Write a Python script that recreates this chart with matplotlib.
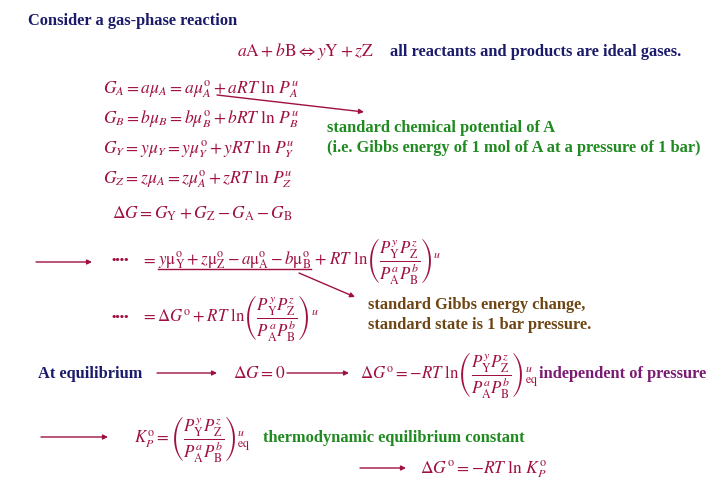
import matplotlib
matplotlib.use('Agg')
import matplotlib.pyplot as plt

plt.rcParams['mathtext.fontset'] = 'stix'
plt.rcParams['font.family'] = ['Liberation Serif', 'DejaVu Serif']

NAVY = '#1b1b6b'
MAROON = '#a0103f'
GREEN = '#1f8a1f'
BROWN = '#6e4514'
PURPLE = '#7b1a72'

# ---- slide text content ----
title_text = 'Consider a gas-phase reaction'
reaction_eq = r'$a\mathrm{A}+b\mathrm{B}\Leftrightarrow y\mathrm{Y}+z\mathrm{Z}$'
reaction_note = 'all reactants and products are ideal gases.'
gibbs_lines = [
    r'$G_A = a\mu_A = a\mu_A^{\mathrm{o}} + aRT\ \mathrm{ln}\ P_A^u$',
    r'$G_B = b\mu_B = b\mu_B^{\mathrm{o}} + bRT\ \mathrm{ln}\ P_B^u$',
    r'$G_Y = y\mu_Y = y\mu_Y^{\mathrm{o}} + yRT\ \mathrm{ln}\ P_Y^u$',
    r'$G_Z = z\mu_A = z\mu_A^{\mathrm{o}} + zRT\ \mathrm{ln}\ P_Z^u$',
]
chem_pot_notes = ['standard chemical potential of A',
                  '(i.e. Gibbs energy of 1 mol of A at a pressure of 1 bar)']
delta_g_def = r'$\Delta G = G_{\mathrm{Y}} + G_{\mathrm{Z}} - G_{\mathrm{A}} - G_{\mathrm{B}}$'
dots = '\u2022\u2022\u2022\u2022'
frac = r'\left(\dfrac{P_{\mathrm{Y}}^{y}P_{\mathrm{Z}}^{z}}{P_{\mathrm{A}}^{a}P_{\mathrm{B}}^{b}}\right)'
line2_under = (r'$y\mathrm{\mu}_{\mathrm{Y}}^{\mathrm{o}} + z\mathrm{\mu}_{\mathrm{Z}}^{\mathrm{o}}'
               r' - a\mathrm{\mu}_{\mathrm{A}}^{\mathrm{o}} - b\mathrm{\mu}_{\mathrm{B}}^{\mathrm{o}}$')
line2_rest = r'$+\ RT\ \mathrm{ln}' + frac + r'^{u}$'
line3 = r'$= \Delta G^{\mathrm{o}} + RT\ \mathrm{ln}' + frac + r'^{u}$'
std_gibbs_notes = ['standard Gibbs energy change,', 'standard state is 1 bar pressure.']
eq_label = 'At equilibrium'
eq_zero = r'$\Delta G = 0$'
eq_dg0 = r'$\Delta G^{\mathrm{o}} = -RT\ \mathrm{ln}' + frac + r'^{u}_{\mathrm{eq}}$'
indep_note = 'independent of pressure'
kp_def = r'$K_P^{\mathrm{o}} = ' + frac + r'^{u}_{\mathrm{eq}}$'
kp_note = 'thermodynamic equilibrium constant'
final_eq = r'$\Delta G^{\mathrm{o}} = -RT\ \mathrm{ln}\ K_P^{\mathrm{o}}$'

W, H = 720, 498
fig = plt.figure(figsize=(7.2, 4.98), dpi=100)
ax = fig.add_axes([0, 0, 1, 1])
ax.set_xlim(0, W)
ax.set_ylim(H, 0)
ax.axis('off')

MS = 12.6   # math size
FS = 12.2   # math size for fraction lines
TS = 11.8   # bold text size


def txt(x, y, s, color, size, bold=False, va='baseline'):
    return ax.text(x, y, s, color=color, fontsize=size, va=va, ha='left',
                   fontweight='bold' if bold else 'normal')


def arrow(x0, y0, x1, y1, color=MAROON):
    ax.annotate('', xy=(x1, y1), xytext=(x0, y0),
                arrowprops=dict(arrowstyle='-|>', color=color, lw=1.0,
                                mutation_scale=7, shrinkA=0, shrinkB=0))


fig.canvas.draw()
renderer = fig.canvas.get_renderer()
inv = ax.transData.inverted()


def width_data(t):
    bb = t.get_window_extent(renderer)
    (x0, _), (x1, _) = inv.transform([[bb.x0, bb.y0], [bb.x1, bb.y0]])
    return x1 - x0


# title & reaction
txt(28, 25, title_text, NAVY, TS, bold=True)
txt(237, 56, reaction_eq, MAROON, MS)
txt(390, 56, reaction_note, NAVY, TS, bold=True)

# Gibbs energies of the species
for i, s in enumerate(gibbs_lines):
    txt(103, 93 + 30 * i, s, MAROON, MS)
arrow(217, 95, 364, 112)
txt(327, 132, chem_pot_notes[0], GREEN, TS, bold=True)
txt(327, 152, chem_pot_notes[1], GREEN, TS, bold=True)

# Delta G
txt(112, 219, delta_g_def, MAROON, MS)

# line 2
arrow(36, 262, 92, 262)
txt(111, 264, dots, MAROON, 9, bold=True)
t_eq = txt(141, 264, r'$=$', MAROON, FS)
xa = 141 + width_data(t_eq) + 2
t_u = txt(xa, 264, line2_under, MAROON, FS)
xb = xa + width_data(t_u)
ax.plot([xa, xb], [268.5, 268.5], color=MAROON, lw=1.0)
txt(xb + 3, 264, line2_rest, MAROON, FS)
arrow(299, 273, 355, 297)
txt(368, 309, std_gibbs_notes[0], BROWN, TS, bold=True)
txt(368, 329, std_gibbs_notes[1], BROWN, TS, bold=True)

# line 3
txt(111, 321, dots, MAROON, 9, bold=True)
txt(141, 321, line3, MAROON, FS)

# equilibrium
txt(38, 378, eq_label, NAVY, TS, bold=True)
arrow(157, 373, 217, 373)
txt(233, 378, eq_zero, MAROON, MS)
arrow(287, 373, 349, 373)
t_dg0 = txt(360, 378, eq_dg0, MAROON, FS)
txt(360 + width_data(t_dg0) + 1, 378, indep_note, PURPLE, TS, bold=True)

# K_P
arrow(41, 437, 108, 437)
t_kp = txt(134, 442, kp_def, MAROON, FS)
txt(134 + width_data(t_kp) + 12, 442, kp_note, GREEN, TS, bold=True)
arrow(360, 468, 406, 468)
txt(420, 473, final_eq, MAROON, MS)

fig.savefig('out.png', dpi=100)
